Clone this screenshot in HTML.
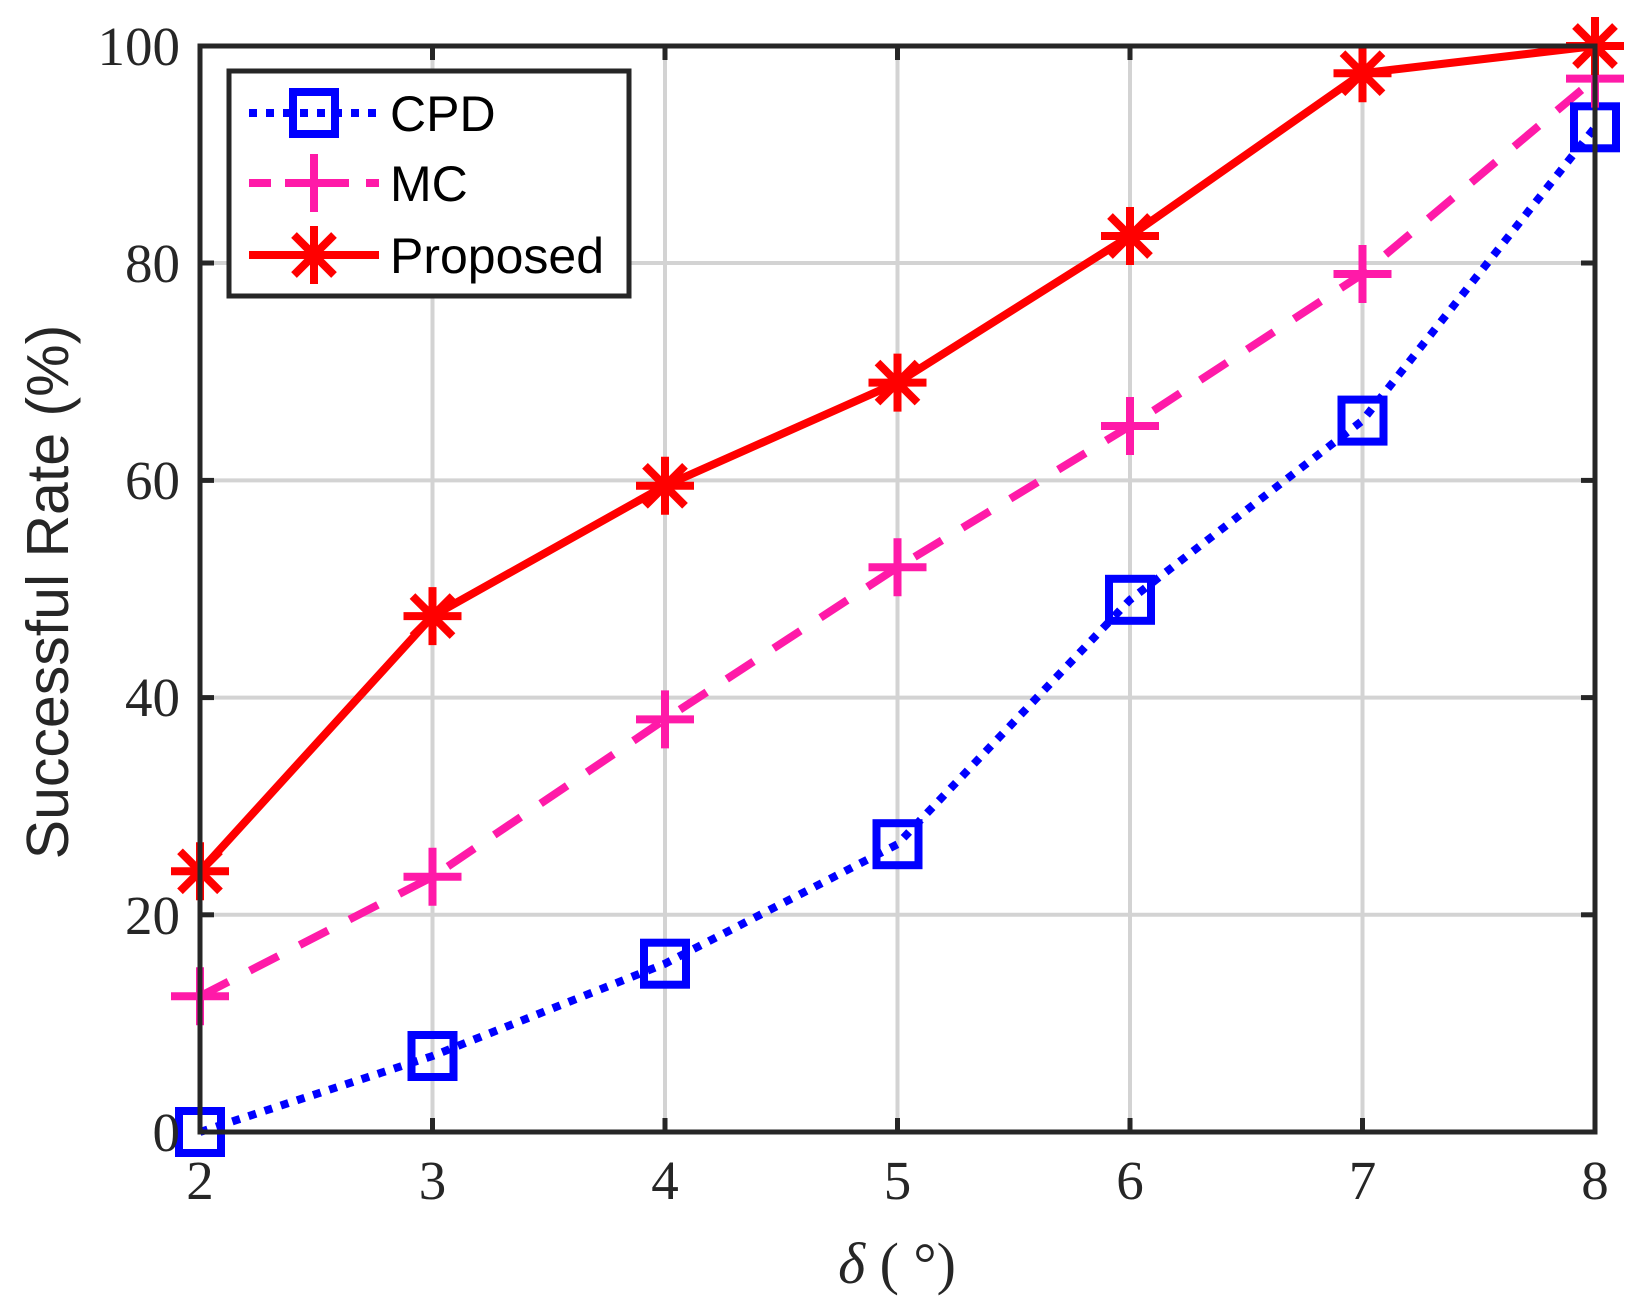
<!DOCTYPE html>
<html><head><meta charset="utf-8"><style>
html,body{margin:0;padding:0;background:#fff;}
svg{display:block;}
</style></head><body>
<svg width="1643" height="1310" viewBox="0 0 1643 1310" xmlns="http://www.w3.org/2000/svg">
<rect width="1643" height="1310" fill="#fff"/>
<g stroke="#d3d3d3" stroke-width="4">
<line x1="432.5" y1="46" x2="432.5" y2="1132"/>
<line x1="665" y1="46" x2="665" y2="1132"/>
<line x1="897.5" y1="46" x2="897.5" y2="1132"/>
<line x1="1130" y1="46" x2="1130" y2="1132"/>
<line x1="1362.5" y1="46" x2="1362.5" y2="1132"/>
<line x1="200" y1="263" x2="1595" y2="263"/>
<line x1="200" y1="480.4" x2="1595" y2="480.4"/>
<line x1="200" y1="697.6" x2="1595" y2="697.6"/>
<line x1="200" y1="914.8" x2="1595" y2="914.8"/>
</g>
<g stroke="#262626" stroke-width="5">
<line x1="432.5" y1="1132" x2="432.5" y2="1118"/><line x1="432.5" y1="46" x2="432.5" y2="60"/>
<line x1="665" y1="1132" x2="665" y2="1118"/><line x1="665" y1="46" x2="665" y2="60"/>
<line x1="897.5" y1="1132" x2="897.5" y2="1118"/><line x1="897.5" y1="46" x2="897.5" y2="60"/>
<line x1="1130" y1="1132" x2="1130" y2="1118"/><line x1="1130" y1="46" x2="1130" y2="60"/>
<line x1="1362.5" y1="1132" x2="1362.5" y2="1118"/><line x1="1362.5" y1="46" x2="1362.5" y2="60"/>
<line x1="200" y1="263" x2="214" y2="263"/><line x1="1595" y1="263" x2="1581" y2="263"/>
<line x1="200" y1="480.4" x2="214" y2="480.4"/><line x1="1595" y1="480.4" x2="1581" y2="480.4"/>
<line x1="200" y1="697.6" x2="214" y2="697.6"/><line x1="1595" y1="697.6" x2="1581" y2="697.6"/>
<line x1="200" y1="914.8" x2="214" y2="914.8"/><line x1="1595" y1="914.8" x2="1581" y2="914.8"/>
</g>
<g fill="none" stroke-width="8">
<polyline stroke="#0000ff" stroke-dasharray="8 9" points="200,1132 432.5,1056 665,963.7 897.5,844.2 1130,599.8 1362.5,420.6 1595,127.3"/>
<polyline stroke="#ff1aa8" stroke-dasharray="32 24" points="200,996.3 432.5,876.8 665,719.4 897.5,567.3 1130,426 1362.5,274 1595,78.6"/>
<polyline stroke="#ff0000" points="200,871.3 432.5,616.1 665,485.8 897.5,382.6 1130,236 1362.5,73.2 1595,46"/>
</g>
<defs>
<g id="sq"><rect x="-21" y="-21" width="42" height="42" fill="none" stroke="#0000ff" stroke-width="8"/></g>
<g id="pl" stroke="#ff1aa8" stroke-width="8"><line x1="-29" y1="0" x2="29" y2="0"/><line x1="0" y1="-29" x2="0" y2="29"/></g>
<g id="st" stroke="#ff0000" stroke-width="8"><line x1="-29" y1="0" x2="29" y2="0"/><line x1="0" y1="-29" x2="0" y2="29"/><line x1="-20" y1="-20" x2="20" y2="20"/><line x1="-20" y1="20" x2="20" y2="-20"/></g>
</defs>
<use href="#sq" x="200" y="1132"/><use href="#sq" x="432.5" y="1056"/><use href="#sq" x="665" y="963.7"/><use href="#sq" x="897.5" y="844.2"/><use href="#sq" x="1130" y="599.8"/><use href="#sq" x="1362.5" y="420.6"/><use href="#sq" x="1595" y="127.3"/>
<use href="#pl" x="200" y="996.3"/><use href="#pl" x="432.5" y="876.8"/><use href="#pl" x="665" y="719.4"/><use href="#pl" x="897.5" y="567.3"/><use href="#pl" x="1130" y="426"/><use href="#pl" x="1362.5" y="274"/><use href="#pl" x="1595" y="78.6"/>
<use href="#st" x="200" y="871.3"/><use href="#st" x="432.5" y="616.1"/><use href="#st" x="665" y="485.8"/><use href="#st" x="897.5" y="382.6"/><use href="#st" x="1130" y="236"/><use href="#st" x="1362.5" y="73.2"/><use href="#st" x="1595" y="46"/>
<rect x="200" y="46" width="1395" height="1086" fill="none" stroke="#262626" stroke-width="5"/>
<rect x="229" y="71" width="400" height="225" fill="#fff" stroke="#262626" stroke-width="5"/>
<line x1="249" y1="113" x2="379" y2="113" stroke="#0000ff" stroke-width="8" stroke-dasharray="8 9"/>
<use href="#sq" x="314" y="113"/>
<line x1="249" y1="183" x2="379" y2="183" stroke="#ff1aa8" stroke-width="8" stroke-dasharray="22 17"/>
<use href="#pl" x="314" y="183"/>
<line x1="249" y1="255" x2="379" y2="255" stroke="#ff0000" stroke-width="8"/>
<use href="#st" x="314" y="255"/>
<g font-family="Liberation Sans, sans-serif" font-size="50" fill="#000">
<text x="390" y="131">CPD</text><text x="390" y="201">MC</text><text x="390" y="273">Proposed</text>
</g>
<g font-family="Liberation Serif, serif" font-size="55" fill="#262626" text-anchor="end">
<text x="180" y="65">100</text><text x="180" y="282">80</text><text x="180" y="499">60</text><text x="180" y="716">40</text><text x="180" y="934">20</text><text x="180" y="1151">0</text>
</g>
<g font-family="Liberation Serif, serif" font-size="55" fill="#262626" text-anchor="middle">
<text x="200" y="1199">2</text><text x="432.5" y="1199">3</text><text x="665" y="1199">4</text><text x="897.5" y="1199">5</text><text x="1130" y="1199">6</text><text x="1362.5" y="1199">7</text><text x="1595" y="1199">8</text>
<text x="897" y="1283" font-size="58"><tspan font-style="italic">δ</tspan> ( °)</text>
</g>
<text transform="translate(68,592) rotate(-90)" font-family="Liberation Sans, sans-serif" font-size="59" fill="#262626" text-anchor="middle">Successful Rate (%)</text>
</svg>
</body></html>
